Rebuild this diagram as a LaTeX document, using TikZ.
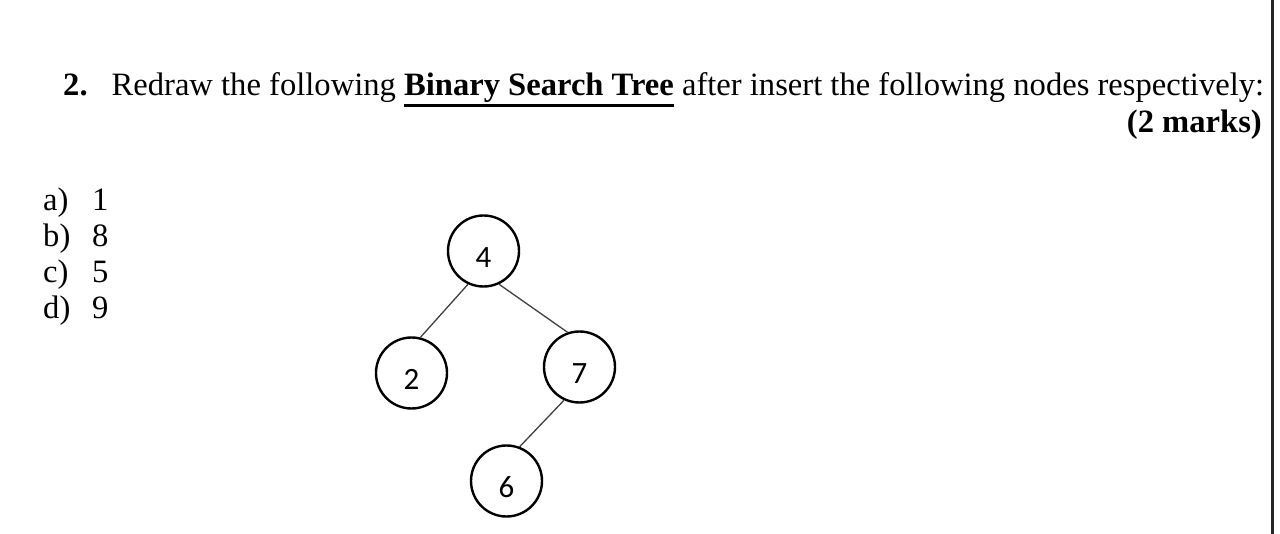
\documentclass[tikz,border=0pt]{standalone}
\usepackage{fontspec}
\setmainfont{Liberation Serif}
\newfontfamily\treefont{Carlito}
\usepackage{tikz}
\usetikzlibrary{calc}

\newcommand{\thickul}[1]{\leavevmode\vtop{\hbox{#1}\kern1pt\hrule height 2.6pt}}

\begin{document}
\begin{tikzpicture}[x=1pt, y=-1pt,
  qtext/.style={anchor=base west, inner sep=0pt, font=\fontsize{32.6}{36}\selectfont},
  treenode/.style={circle, draw, line width=2.4pt, minimum size=71pt, inner sep=0pt,
    text height=32.5pt, text depth=0pt, font=\treefont\fontsize{31}{32}\selectfont},
  treeedge/.style={draw=black!75, line width=1.3pt}]

\useasboundingbox (0, 0) rectangle (1280, 534);
\fill[white] (0, 0) rectangle (1280, 534);

% right margin rule
\coordinate (ruletop) at (1272, 0);
\coordinate (rulebot) at (1272, 534);
\draw[line width=3pt, black!85] (ruletop) -- (rulebot);

\node[qtext] (question) at (63, 96) {\textbf{2.}\hspace{24pt}Redraw the following \thickul{\textbf{Binary Search Tree}} after insert the following nodes respectively:};
\node[qtext, anchor=base east] (marks) at (1262, 133) {\textbf{(2 marks)}};

\foreach \l/\v/\y in {a/1/211, b/8/247, c/5/283, d/9/319}{

\node[qtext] (lbl\l) at (43, \y) {\l)};
\node[qtext] (val\l) at (92, \y) {\v};

}

\node[treenode] (n4) at (483.5, 251) {4};
\node[treenode] (n2) at (411.5, 373) {2};
\node[treenode] (n7) at (579.5, 367) {7};
\node[treenode] (n6) at (506.5, 481) {6};

\draw[treeedge] (n4.245) -- (n2.76);
\draw[treeedge] (n4.-65) -- (n7.109);
\draw[treeedge] (n7.245) -- (n6.69);

\end{tikzpicture}
\end{document}
